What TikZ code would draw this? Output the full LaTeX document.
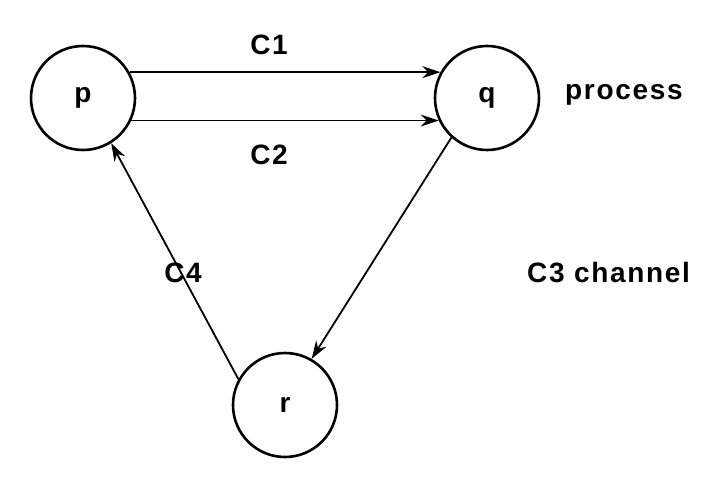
\documentclass[tikz,border=0pt]{standalone}
\usepackage{fontspec}
\setmainfont{Liberation Sans}[LetterSpace=6]
\usetikzlibrary{arrows.meta}
\begin{document}
\begin{tikzpicture}[x=1pt,y=-1pt,
  proc/.style={circle,draw,line width=2.6pt,minimum size=104pt,inner sep=0pt,font=\bfseries\fontsize{28}{32}\selectfont},
  ch/.style={-{Stealth[length=18pt,width=12pt]},line width=1.8pt},
  lab/.style={font=\bfseries\fontsize{28}{32}\selectfont,inner sep=0pt}]
\useasboundingbox (0,0) rectangle (722,486);
\node[proc] (p) at (83,98) {p};
\node[proc] (q) at (487,98) {q};
\node[proc] (r) at (285,405) {r};
\draw[ch] (p.29) -- (q.151);
\draw[ch] (p.-25) -- (q.-155);
\draw[ch] (q.228) -- (r.60);
\draw[ch] (r.151) -- (p.-58);
\node[lab] (l1) at (269,45) {C1};
\node[lab] (l2) at (269,155) {C2};
\node[lab,anchor=west] (l3) at (527,273) {C3 channel};
\node[lab] (l4) at (183,273) {C4};
\node[lab,anchor=west] (l5) at (565,95) {process};
\end{tikzpicture}
\end{document}
